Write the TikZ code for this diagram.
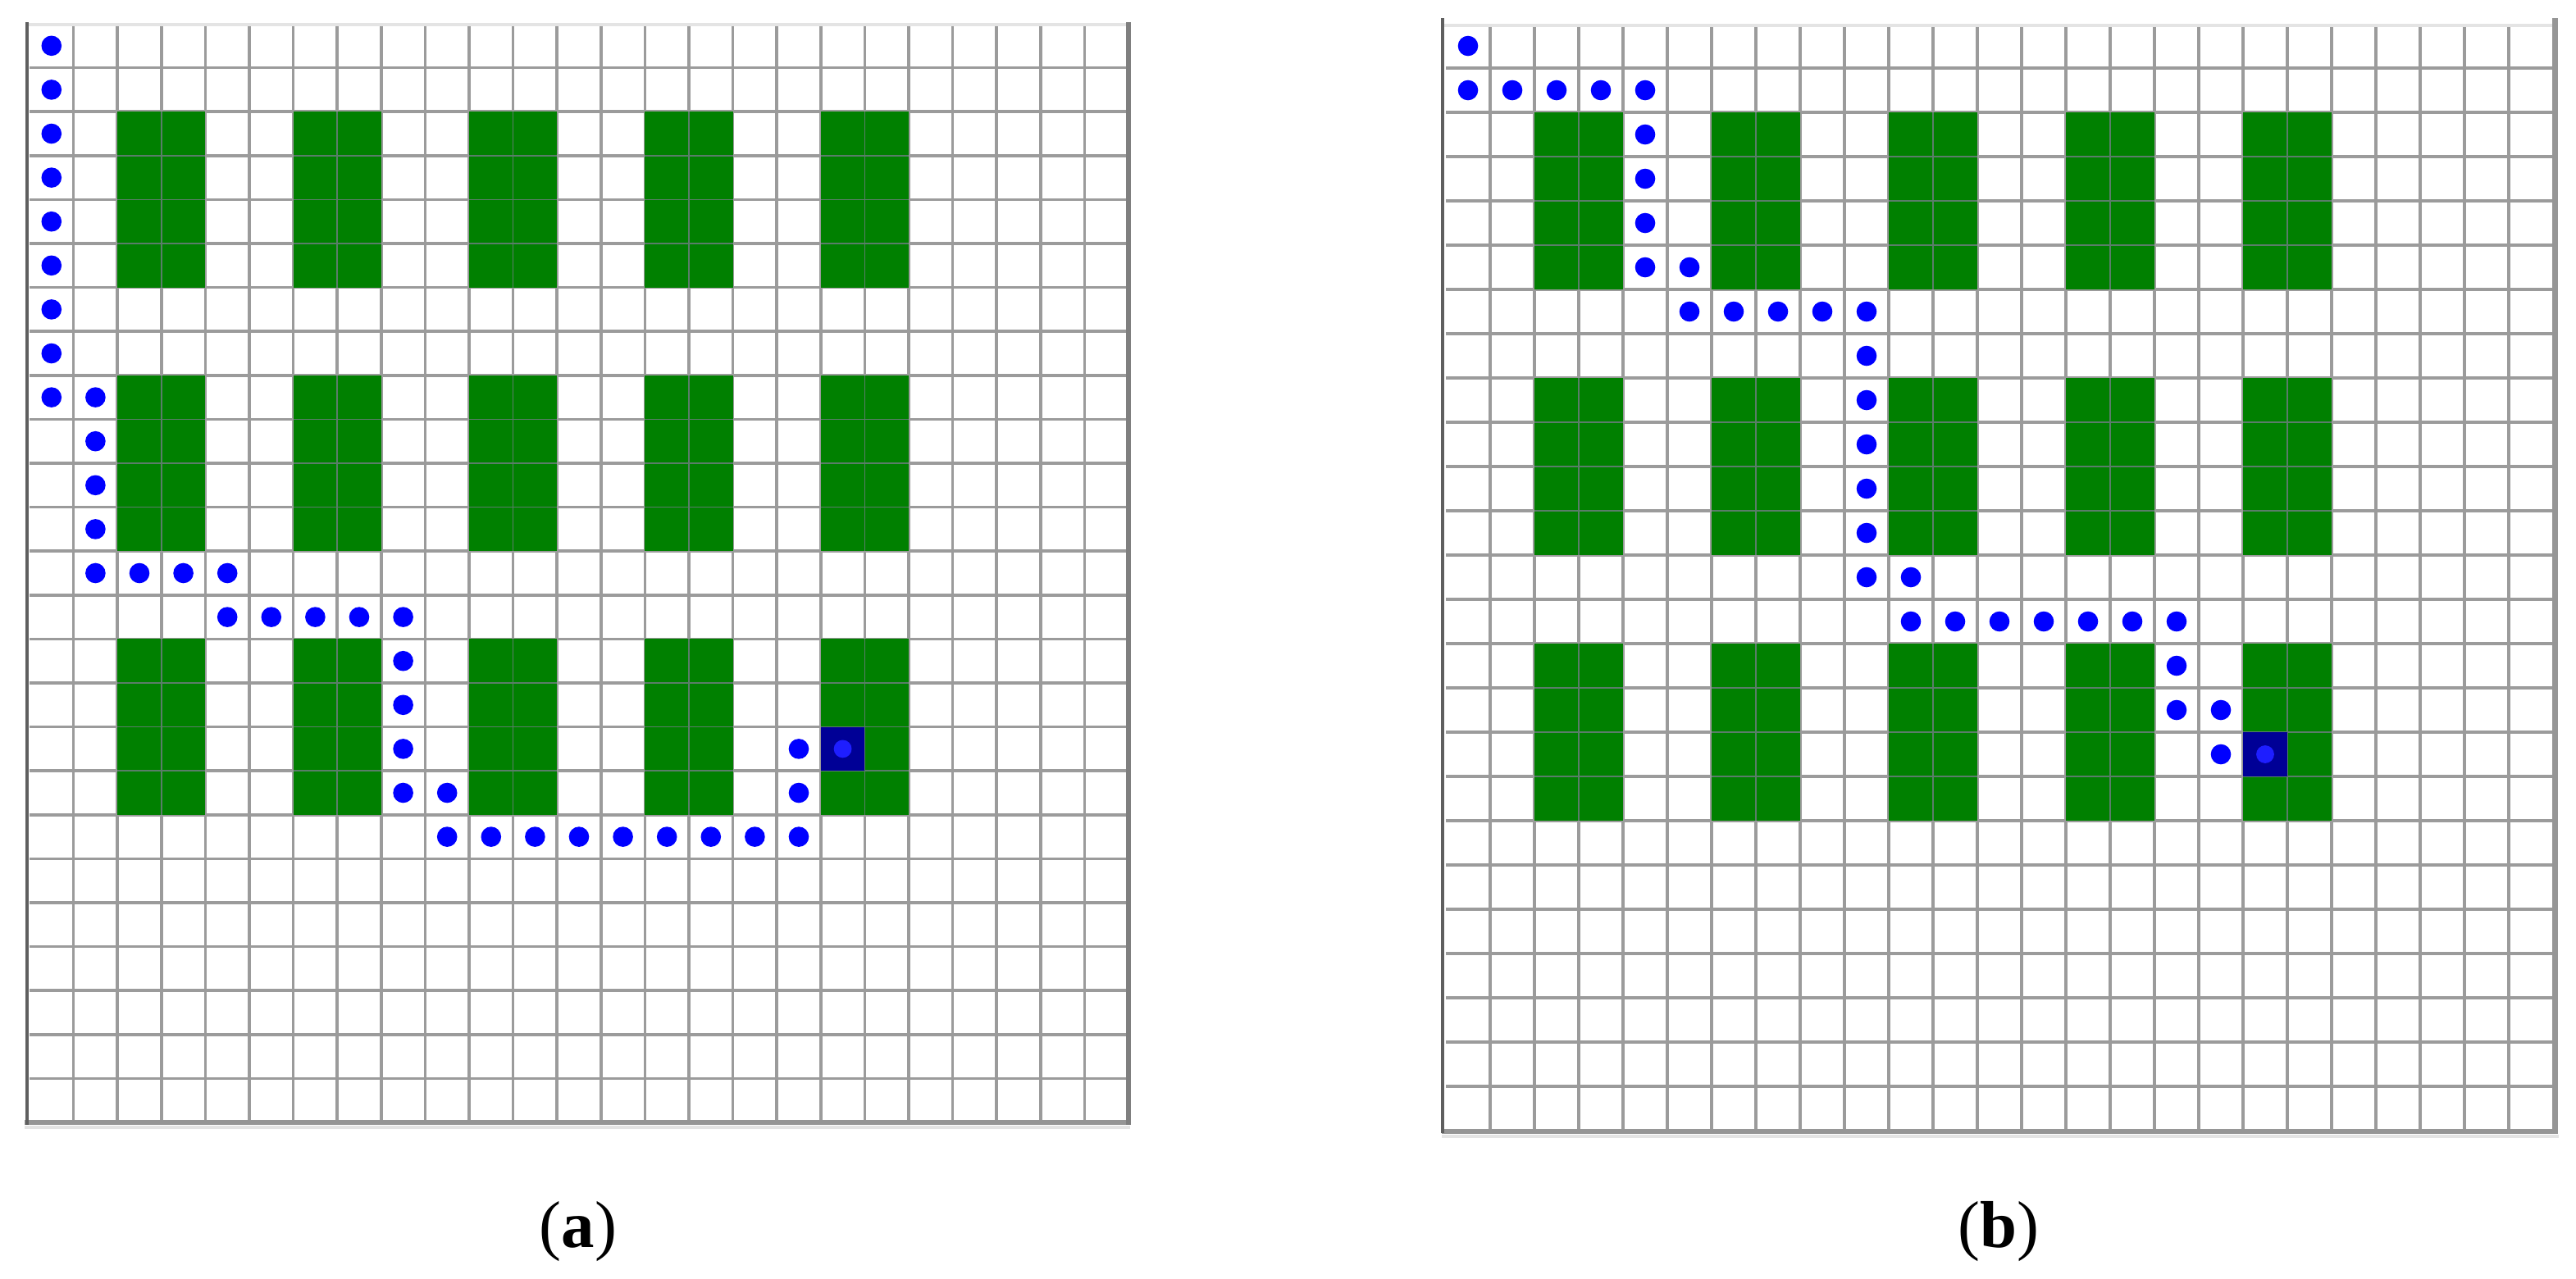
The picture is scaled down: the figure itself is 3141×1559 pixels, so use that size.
\documentclass[tikz,border=0pt]{standalone}
\usepackage{fontspec}
\setmainfont{Liberation Serif}
\usetikzlibrary{calc}
\definecolor{gridc}{RGB}{155,155,155}
\definecolor{blockg}{RGB}{0,128,0}
\definecolor{innerl}{RGB}{90,125,105}
\definecolor{dotc}{RGB}{0,0,255}
\definecolor{navyc}{RGB}{0,0,150}
\definecolor{tgtc}{RGB}{30,30,255}
\definecolor{framed}{RGB}{95,95,95}
\definecolor{framem}{RGB}{150,150,150}
\definecolor{framel}{RGB}{228,228,228}
\tikzset{
  gridl/.style={draw=gridc, line width=1.0pt},
  innl/.style={draw=innerl, line width=0.5pt},
  blockfill/.style={fill=blockg},
  pathdot/.style={fill=dotc},
  tgtsq/.style={fill=navyc},
  tgtdot/.style={fill=tgtc},
  lab/.style={inner sep=0pt, font=\fontsize{23}{27}\selectfont},
}
\newcommand{\drawpanel}[2]{%
  \foreach \i in {1,...,24} {
    \draw[gridl] (\i,0) -- (\i,25);
    \draw[gridl] (0,\i) -- (25,\i);
  }
  \foreach \cx in {2,6,10,14,18} {
    \foreach \ry in {2,8,14} {
      \fill[blockfill] (\cx,\ry) rectangle ++(2,4);
      \draw[innl] (\cx+1,\ry) -- ++(0,4);
      \foreach \k in {1,2,3} { \draw[innl] (\cx,\ry+\k) -- ++(2,0); }
    }
  }
  \foreach \c/\r in {#1} { \fill[pathdot] (\c+0.5,\r+0.5) circle[radius=3.5pt]; }
  \fill[tgtsq] (#2) rectangle ++(1,1);
  \fill[tgtdot] ($(#2)+(0.5,0.5)$) circle[radius=3.1pt];
}
\begin{document}
\begin{tikzpicture}[x=0.1mm,y=-0.1mm]
\useasboundingbox (0,0) rectangle (3141,1559);
\fill[white] (0,0) rectangle (3141,1559);

% ---------- panel (a) ----------
\begin{scope}[shift={(36,29)}, x=5.36mm, y=-5.36mm]
  \drawpanel{0/0,0/1,0/2,0/3,0/4,0/5,0/6,0/7,0/8,
    1/8,1/9,1/10,1/11,1/12,2/12,3/12,4/12,
    4/13,5/13,6/13,7/13,8/13,8/14,8/15,8/16,8/17,9/17,
    9/18,10/18,11/18,12/18,13/18,14/18,15/18,16/18,17/18,17/17,17/16}{18,16}
\end{scope}
\draw[framel, line width=1.4pt] (34,30) -- (1374,30);
\draw[framem, line width=1.5pt] (30,1369) -- (1378,1369);
\draw[framel, line width=1.4pt] (30,1375) -- (1378,1375);
\draw[framed, line width=1.4pt] (33,27) -- (33,1372);
\draw[framed!80, line width=1.5pt] (1376,27) -- (1376,1372);

% ---------- panel (b) ----------
\begin{scope}[shift={(1763,29)}, x=5.4mm, y=-5.4mm]
  \drawpanel{0/0,0/1,1/1,2/1,3/1,4/1,4/2,4/3,4/4,4/5,5/5,
    5/6,6/6,7/6,8/6,9/6,9/7,9/8,9/9,9/10,9/11,9/12,10/12,
    10/13,11/13,12/13,13/13,14/13,15/13,16/13,16/14,16/15,17/15,17/16}{18,16}
\end{scope}
\draw[framel, line width=1.4pt] (1760,31) -- (3112,31);
\draw[framem, line width=1.7pt] (1758,1380) -- (3118,1380);
\draw[framel, line width=1.2pt] (1758,1386) -- (3120,1386);
\draw[framed, line width=1.4pt] (1759,22) -- (1759,1382);
\draw[framem, line width=2.0pt] (3115,22) -- (3115,1383);

% ---------- labels ----------
\node[lab] (la) at (705,1502) {(\textbf{a})};
\node[lab] (lb) at (2437,1502) {(\textbf{b})};
\end{tikzpicture}
\end{document}
